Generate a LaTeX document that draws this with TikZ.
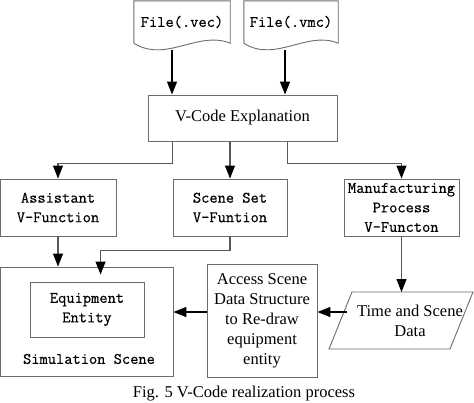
\documentclass[tikz,border=0pt]{standalone}
\usepackage{fontspec}
\setmainfont{Liberation Serif}
\setmonofont[FakeBold=0.5]{Latin Modern Mono}
\usetikzlibrary{arrows.meta, positioning}

\begin{document}
\begin{tikzpicture}[x=1pt,y=-1pt]
				\tikzset{outline/.style={draw=gray!85!black,line width=0.9pt},
					box/.style={outline,inner sep=1pt,align=center},
					mono/.style={font=\ttfamily\fontsize{16}{19.5}\selectfont,align=center},
					serif/.style={font=\fontsize{16.5}{20}\selectfont,align=center},
					conn/.style={draw=gray!70!black,line width=1.1pt,-{Triangle[length=13pt,width=10pt,color=black]}},
					feed/.style={draw=black,line width=1.3pt,-{Triangle[length=13pt,width=10pt]}}}
				
				\useasboundingbox (0,0) rectangle (474,402);
				\clip (0,0) rectangle (474,402);
				
				% input files
				\node[mono,minimum width=96pt,minimum height=42pt,inner sep=0pt] (vec) at (182,22) {File(.vec)};
				\node[mono,minimum width=94pt,minimum height=42pt,inner sep=0pt] (vmc) at (291,22) {File(.vmc)};
				\draw[outline] (vec.south west) -- (vec.north west) -- (vec.north east) -- (vec.south east) .. controls +(-32,-13) and +(32,20) .. (vec.south west);
				\draw[outline] (vmc.south west) -- (vmc.north west) -- (vmc.north east) -- (vmc.south east) .. controls +(-31,-13) and +(31,20) .. (vmc.south west);
				
				\node[box,serif,minimum width=189pt,minimum height=46pt] (expl) at (242.5,118) {V-Code Explanation};
				
				\node[box,mono,minimum width=116pt,minimum height=57pt] (asst) at (58,207.5) {Assistant\\V-Function};
				\node[box,mono,minimum width=114pt,minimum height=57pt] (scene) at (230,207.5) {Scene Set\\V-Funtion};
				\node[box,mono,minimum width=115pt,minimum height=57pt] (manu) at (401.5,207.5) {Manufacturing\\Process\\V-Functon};
				
				\node[box,minimum width=173pt,minimum height=109pt] (sim) at (86.5,321.5) {};
				\node[box,mono,minimum width=114pt,minimum height=55pt] (equip) at (87,309.5) {Equipment\\Entity};
				\node[mono] (simlabel) at (89,359) {Simulation Scene};
				
				\node[box,serif,minimum width=110pt,minimum height=113pt] (access) at (262,320.5) {Access Scene\\Data Structure\\to Re-draw\\equipment\\entity};
				
				\node[serif,inner sep=0pt] (time) at (410,321) {Time and Scene\\Data};
				\coordinate (tl) at ([shift={(-58,-29)}]time.center);
				\coordinate (tr) at ([shift={(63,-29)}]time.center);
				\coordinate (br) at ([shift={(40,28)}]time.center);
				\coordinate (bl) at ([shift={(-81,28)}]time.center);
				\draw[outline] (tl) -- (tr) -- (br) -- (bl) -- cycle;
				
				% connectors
				\coordinate (v1) at ([shift={(-10,7)}]vec.south);
				\coordinate (v2) at ([shift={(-6,7)}]vmc.south);
				\draw[feed] (v1) -- (v1 |- expl.north);
				\draw[feed] (v2) -- (v2 |- expl.north);
				
				\draw[conn] ([xshift=25pt]expl.south west) -- ++(0,22) -| (asst.north);
				\draw[conn] (scene.north |- expl.south) -- (scene.north);
				\draw[conn] ([xshift=-50pt]expl.south east) -- ++(0,22) -| (manu.north);
				
				\coordinate (e1) at ([shift={(71,-7)}]equip.north west);
				\draw[conn] (asst.south) -- (asst.south |- sim.north);
				\draw[conn] (scene.south) -- ++(0,14) -| (e1);
				\draw[conn] (manu.south) -- (manu.south |- tl);
				
				\coordinate (t1) at ([shift={(-63,-9)}]time.center);
				\draw[feed] (t1) -- (t1 -| access.east);
				\draw[feed] (access.west |- t1) -- (sim.east |- t1);
				
				\node[serif,anchor=north,inner sep=0pt] (cap) at (244,386) {Fig. 5 V-Code realization process};
				
\end{tikzpicture}
\end{document}
